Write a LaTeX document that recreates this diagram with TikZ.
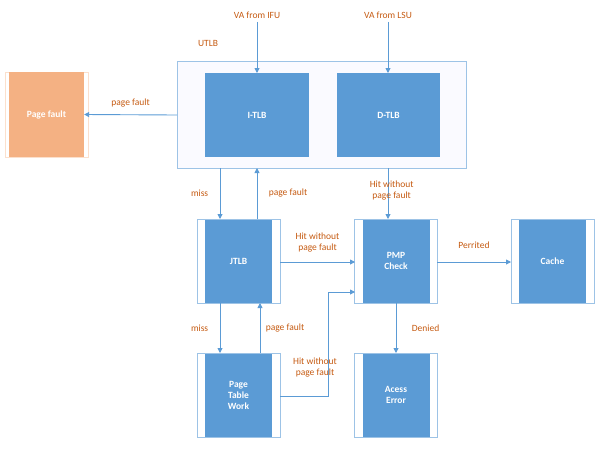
\documentclass[tikz,border=0pt]{standalone}
\usepackage{fontspec}
\setmainfont{Carlito}
\usetikzlibrary{arrows.meta}
\definecolor{bl}{HTML}{5B9BD5}
\definecolor{lb}{HTML}{9DC3E6}
\definecolor{or}{HTML}{C55A11}
\definecolor{pf}{HTML}{F4B183}
\begin{document}
\begin{tikzpicture}[x=1pt,y=-1pt,
  lab/.style={text=or,font=\fontsize{9.5}{11}\selectfont,align=center},
  frame/.style={draw=lb,fill=white,line width=0.5pt},
  blk/.style={fill=bl,text=white,font=\fontsize{9.5}{11}\selectfont\bfseries,align=center,inner sep=0},
  arr/.style={draw=bl,line width=0.9pt,-{Triangle[length=5pt,width=5pt]}}]
\useasboundingbox (0,0) rectangle (600,451);
% UTLB
\draw[draw=lb,fill=blue!2,line width=0.7pt] (177,61) rectangle (466,168);
\node[blk,minimum width=104,minimum height=84] (itlb) at (257,115) {I-TLB};
\node[blk,minimum width=103,minimum height=84] (dtlb) at (388.5,115) {D-TLB};
\node[lab] at (208,43) {UTLB};
\node[lab] (ifu) at (257,15) {VA from IFU};
\node[lab] (lsu) at (388,15) {VA from LSU};
\coordinate (utl) at (177,115);
\coordinate (ub1) at (220,168);
\coordinate (ub2) at (257,168);
\coordinate (ub3) at (388,168);
% page fault
\draw[draw=pf!40,fill=white] (5,72) rectangle (88,157);
\node[fill=pf,text=white,font=\fontsize{9.5}{11}\selectfont\bfseries,minimum width=75,minimum height=85,inner sep=0] (pf) at (46.5,114.5) {Page fault};
% framed blocks
\foreach \n/\cx/\cy/\t in {jtlb/238.5/261/JTLB, pmp/396/261/{PMP\\Check}, cache/552.5/261/Cache, ptw/238.5/395/{Page\\Table\\Work}, err/396/395/{Acess\\Error}}{
  \draw[frame] (\cx-41.5,\cy-42) rectangle (\cx+41.5,\cy+42);
  \node[blk,minimum width=67,minimum height=83] (\n) at (\cx,\cy) {\t};
}
% arrows
\draw[arr] (ifu.south) -- (257,73);
\draw[arr] (lsu.south) -- (388,73);
\draw[arr] (utl) -- (pf.east) node[lab,midway,above=4pt] {page fault};
\draw[arr] (ub1) -- (220,219) node[lab,midway,left=8pt] {miss};
\draw[arr] (257,219) -- (ub2) node[lab,midway,right=8pt] {page fault};
\draw[arr] (ub3) -- (388,219) node[lab,pos=0.45,right=-22pt] {Hit without\\page fault};
\draw[arr] (280,262) -- (355,262) node[lab,midway,above=6pt] {Hit without\\page fault};
\draw[arr] (437,262) -- (511,262) node[lab,midway,above=10pt] {Perrited};
\draw[arr] (396,303) -- (396,353) node[lab,midway,right=12pt] {Denied};
\draw[arr] (220,303) -- (220,353) node[lab,midway,left=8pt] {miss};
\draw[arr] (260,353) -- (260,303) node[lab,midway,right=2pt] {page fault};
\draw[arr] (280,396) -- (328,396) -- (328,292) -- (355,292);
\node[lab] at (315,368) {Hit without\\page fault};
\end{tikzpicture}
\end{document}
